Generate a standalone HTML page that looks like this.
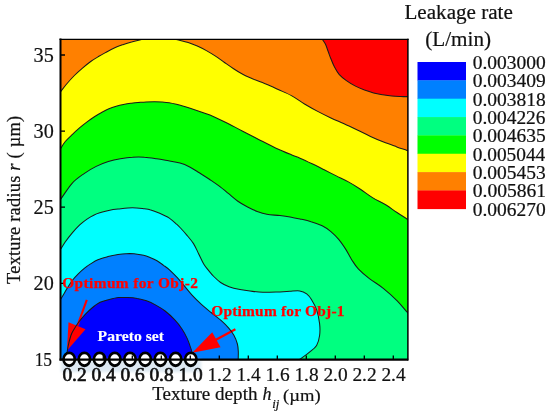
<!DOCTYPE html>
<html><head><meta charset="utf-8"><style>
html,body{margin:0;padding:0;background:#fff;}
body{width:550px;height:414px;overflow:hidden;}
svg{display:block;}
text{font-family:"Liberation Serif","Times New Roman",serif;font-size:17.6px;fill:#111;stroke:#111;stroke-width:0.2px;}
.b{stroke:#111;stroke-width:0.65px;}
.red{font-weight:bold;fill:#ff0000;stroke:#ff0000;stroke-width:0.25px;}
.wh{font-weight:bold;fill:#fff;stroke:#fff;stroke-width:0.15px;}
</style></head><body>
<svg width="550" height="414" viewBox="0 0 550 414">
<defs><filter id="bl" x="-20%" y="-50%" width="140%" height="200%"><feGaussianBlur stdDeviation="1.8"/></filter><clipPath id="pc"><rect x="60.5" y="39.3" width="347.4" height="320.2"/></clipPath></defs>
<g clip-path="url(#pc)">
<path fill="#ff0000" d="M50 28 H420 V372 H50 Z"/>
<path fill="#ff8000" d="M321.6 36.5 C321.8 37.0 322.1 38.4 322.7 39.7 C323.3 41.0 324.6 42.3 325.5 44.3 C326.4 46.3 327.3 49.1 328.2 51.5 C329.1 53.9 329.8 56.2 330.9 58.8 C331.9 61.4 333.1 64.4 334.5 67.0 C335.9 69.6 337.1 72.0 339.1 74.3 C341.1 76.6 343.7 78.6 346.4 80.6 C349.1 82.6 352.5 84.5 355.5 86.1 C358.5 87.7 361.5 88.9 364.5 90.1 C367.5 91.2 370.6 92.2 373.6 93.0 C376.6 93.8 379.7 94.3 382.7 94.8 C385.7 95.3 388.8 95.8 391.8 96.1 C394.8 96.4 398.3 96.5 400.9 96.6 C403.5 96.7 405.4 96.6 407.3 96.6 C409.2 96.6 411.2 96.6 412.0 96.6 L420 96.6 L420 372 L50 372 L50 28 L321.6 28 Z"/>
<path fill="#ffff00" d="M50 372 L50 97.0 L56.0 97.0 C56.8 96.1 58.8 93.9 60.5 91.8 C62.2 89.7 63.9 87.2 66.2 84.5 C68.5 81.8 71.7 78.2 74.4 75.5 C77.1 72.8 79.8 70.4 82.5 68.1 C85.2 65.8 88.0 63.5 90.7 61.5 C93.4 59.5 96.2 57.9 98.9 56.3 C101.6 54.7 104.4 53.2 107.1 51.7 C109.8 50.2 112.6 48.8 115.3 47.6 C118.0 46.4 120.8 45.4 123.5 44.4 C126.2 43.4 128.9 42.6 131.6 41.9 C134.3 41.1 137.6 40.4 139.8 39.9 C142.0 39.4 143.0 39.3 144.7 39.0 C146.4 38.7 149.1 38.2 150.0 38.0 L150.0 28 L172.0 28 L172.0 38.5 C172.9 38.7 174.6 39.0 177.3 39.7 C180.0 40.4 184.9 41.4 188.2 42.5 C191.5 43.6 194.3 44.8 197.3 46.1 C200.3 47.5 203.4 48.9 206.4 50.6 C209.4 52.3 212.5 54.1 215.5 56.1 C218.5 58.1 221.5 60.4 224.5 62.5 C227.5 64.6 230.6 66.8 233.6 68.8 C236.6 70.8 239.7 72.7 242.7 74.3 C245.7 75.9 248.8 77.2 251.8 78.5 C254.8 79.8 257.9 80.9 260.9 82.1 C263.9 83.3 267.1 84.5 270.0 85.7 C272.9 86.9 274.6 87.8 278.2 89.5 C281.8 91.2 287.0 93.2 291.4 95.6 C295.8 98.0 300.1 101.4 304.5 104.0 C308.9 106.6 313.3 109.1 317.7 111.4 C322.1 113.7 326.5 115.9 330.9 118.0 C335.3 120.1 339.7 121.8 344.1 123.8 C348.5 125.8 352.9 127.9 357.3 130.0 C361.7 132.1 366.1 134.4 370.5 136.4 C374.9 138.4 379.2 140.3 383.6 142.1 C388.0 143.8 392.9 145.5 396.8 146.9 C400.7 148.3 404.5 149.5 407.0 150.4 C409.5 151.3 411.2 151.9 412.0 152.2 L420 152.2 L420 372 Z"/>
<path fill="#00ff00" d="M50 372 L50 156.0 L56.0 156.0 C56.8 154.8 59.0 151.2 60.5 148.8 C62.0 146.4 63.3 143.9 65.3 141.5 C67.3 139.1 70.1 136.6 72.5 134.3 C74.9 132.0 77.4 129.8 79.8 127.7 C82.2 125.6 84.7 123.7 87.1 121.9 C89.5 120.1 92.0 118.4 94.4 116.8 C96.8 115.2 99.2 113.8 101.6 112.5 C104.0 111.2 106.5 109.8 108.9 108.8 C111.3 107.8 113.8 107.0 116.2 106.3 C118.6 105.6 121.1 105.0 123.5 104.5 C125.9 104.0 128.3 103.6 130.7 103.3 C133.1 103.0 135.4 102.7 138.0 102.5 C140.6 102.3 143.2 102.0 146.0 101.9 C148.8 101.8 151.9 101.7 154.5 101.7 C157.1 101.7 159.4 101.7 161.8 101.9 C164.2 102.1 166.7 102.3 169.1 102.7 C171.5 103.1 174.0 103.7 176.4 104.3 C178.8 104.9 181.2 105.6 183.6 106.3 C186.0 107.0 188.5 107.8 190.9 108.6 C193.3 109.4 195.8 110.3 198.2 111.1 C200.6 111.9 203.1 112.8 205.5 113.6 C207.9 114.4 209.2 114.7 212.7 116.2 C216.2 117.7 221.4 120.2 226.4 122.7 C231.4 125.2 237.2 128.4 242.7 131.2 C248.1 134.0 253.6 136.9 259.1 139.7 C264.6 142.5 270.1 145.4 275.5 147.9 C280.9 150.4 287.7 153.2 291.8 154.9 C295.9 156.6 296.6 156.7 300.0 158.2 C303.4 159.7 308.1 161.9 312.1 163.8 C316.1 165.7 320.2 167.8 324.2 169.8 C328.2 171.8 332.3 173.9 336.3 175.9 C340.3 177.9 344.4 179.7 348.4 181.9 C352.4 184.1 356.4 186.6 360.4 189.2 C364.4 191.8 368.2 195.0 372.5 197.6 C376.8 200.2 382.1 202.6 386.1 205.0 C390.1 207.4 393.1 210.0 396.6 212.3 C400.1 214.6 404.4 217.4 407.0 219.0 C409.6 220.6 411.2 221.5 412.0 222.0 L420 222.0 L420 372 Z"/>
<path fill="#00ff80" d="M50 372 L50 205.0 L56.0 205.0 C56.8 204.1 57.8 203.1 60.5 199.5 C63.2 195.9 68.2 187.6 72.1 183.3 C76.0 179.0 80.1 176.4 84.1 173.6 C88.1 170.8 92.2 168.4 96.2 166.4 C100.2 164.4 104.3 162.9 108.3 161.6 C112.3 160.3 116.4 159.4 120.4 158.7 C124.4 158.0 128.4 157.4 132.4 157.2 C136.4 156.9 140.5 156.9 144.5 157.2 C148.5 157.4 152.6 158.1 156.6 158.7 C160.6 159.3 164.7 160.1 168.6 160.8 C172.5 161.5 176.5 162.1 180.0 163.1 C183.5 164.1 186.5 165.4 189.7 167.0 C192.9 168.6 196.1 170.8 199.3 172.8 C202.5 174.8 205.8 176.8 209.0 179.0 C212.2 181.2 215.4 183.3 218.6 185.7 C221.8 188.1 225.1 190.8 228.3 193.4 C231.5 196.0 234.7 198.9 237.9 201.2 C241.1 203.5 244.4 205.3 247.6 207.0 C250.8 208.7 254.0 210.2 257.2 211.4 C260.4 212.6 263.1 213.6 266.9 214.3 C270.7 215.0 276.1 215.1 280.0 215.6 C283.9 216.1 286.7 216.5 290.0 217.1 C293.3 217.7 296.5 218.1 300.0 218.9 C303.5 219.7 307.4 220.5 311.1 221.7 C314.8 222.8 318.9 224.2 322.2 225.8 C325.4 227.4 327.8 229.1 330.6 231.4 C333.4 233.7 336.4 236.7 338.9 239.7 C341.4 242.7 343.7 246.2 345.8 249.4 C347.9 252.7 349.3 255.9 351.4 259.2 C353.5 262.4 355.3 265.7 358.3 268.9 C361.3 272.1 365.2 275.4 369.4 278.6 C373.6 281.8 378.7 284.6 383.3 288.3 C387.9 292.0 393.3 296.9 397.2 300.8 C401.1 304.7 404.4 309.2 406.9 311.9 C409.4 314.6 411.1 316.1 412.0 317.0 L420 317.0 L420 372 Z"/>
<path fill="#00ffff" d="M50 372 L50 255.0 L56.0 255.0 C56.8 254.1 59.0 251.5 60.5 249.3 C62.0 247.1 63.2 244.8 65.2 242.0 C67.2 239.2 70.1 235.4 72.5 232.6 C74.9 229.8 77.3 227.2 79.7 224.9 C82.1 222.7 84.6 220.8 87.0 219.1 C89.4 217.4 91.8 216.0 94.2 214.9 C96.6 213.8 99.1 213.1 101.5 212.3 C103.9 211.6 106.0 211.0 108.7 210.4 C111.5 209.8 114.0 209.4 118.0 209.0 C122.0 208.6 128.0 207.8 132.4 207.8 C136.8 207.8 141.6 208.5 144.5 208.8 C147.4 209.1 147.5 208.9 150.0 209.7 C152.5 210.4 156.5 211.9 159.7 213.3 C162.9 214.7 166.5 216.3 169.3 218.1 C172.1 219.9 174.7 222.5 176.6 224.2 C178.5 225.8 178.8 226.2 180.5 228.0 C182.2 229.8 184.6 232.5 186.8 235.1 C189.0 237.7 191.5 240.5 193.5 243.6 C195.5 246.7 196.9 250.3 198.6 253.7 C200.3 257.1 202.0 261.1 203.7 263.9 C205.4 266.7 207.0 268.5 208.7 270.6 C210.4 272.7 211.8 274.5 213.8 276.5 C215.8 278.5 218.1 280.8 220.6 282.5 C223.1 284.2 225.8 285.5 229.0 286.7 C232.2 287.9 236.5 288.9 240.0 289.6 C243.5 290.3 246.2 290.7 250.0 291.1 C253.8 291.5 257.9 292.1 262.9 292.2 C267.9 292.3 275.4 292.0 279.9 291.9 C284.4 291.8 286.5 291.5 289.8 291.3 C293.1 291.1 296.9 290.5 299.7 290.9 C302.5 291.3 304.7 292.4 306.7 293.9 C308.7 295.4 310.0 297.2 311.6 299.8 C313.2 302.4 315.3 305.7 316.6 309.7 C317.9 313.7 319.1 319.3 319.6 323.6 C320.1 327.9 320.1 331.9 319.6 335.5 C319.1 339.1 318.3 342.6 316.6 345.4 C314.9 348.2 312.0 350.0 309.2 352.4 C306.4 354.8 302.1 357.6 299.6 359.5 C297.2 361.4 295.4 363.2 294.5 364.0 L294.5 372 Z"/>
<path fill="#0080ff" d="M50 372 L50 306.0 L56.0 306.0 C56.8 304.9 58.5 302.6 60.5 299.5 C62.5 296.4 65.7 290.6 67.7 287.4 C69.7 284.2 70.7 282.5 72.5 280.2 C74.3 277.9 76.5 275.6 78.5 273.6 C80.5 271.6 82.6 269.7 84.6 268.1 C86.6 266.5 88.4 265.3 90.6 263.9 C92.8 262.5 95.0 260.9 97.9 259.7 C100.8 258.5 104.7 257.5 108.0 256.6 C111.3 255.8 115.0 255.1 118.0 254.6 C121.0 254.1 123.3 253.8 126.0 253.7 C128.7 253.6 131.1 253.5 134.0 253.8 C136.9 254.1 140.8 254.7 143.5 255.3 C146.2 255.9 147.8 256.6 150.0 257.5 C152.2 258.4 154.8 259.5 157.0 260.8 C159.2 262.1 161.3 263.7 163.5 265.3 C165.7 266.9 167.7 268.2 170.0 270.3 C172.3 272.4 174.9 275.1 177.3 277.7 C179.7 280.3 182.1 283.3 184.5 286.2 C186.9 289.1 189.0 291.8 191.8 294.8 C194.6 297.8 198.2 301.4 201.4 304.3 C204.6 307.2 207.8 309.8 211.1 312.5 C214.4 315.2 218.4 318.1 221.3 320.6 C224.2 323.2 226.4 325.4 228.5 327.8 C230.6 330.2 232.4 332.5 233.9 335.2 C235.4 337.9 236.7 341.3 237.4 344.0 C238.1 346.7 238.2 348.8 238.3 351.4 C238.4 354.0 238.2 357.1 238.2 359.5 C238.2 361.9 238.2 364.9 238.2 366.0 L238.2 372 Z"/>
<path fill="#0000ff" d="M66.0 366.0 C66.1 364.9 66.2 362.4 66.5 359.5 C66.8 356.6 67.0 352.4 67.7 348.4 C68.4 344.4 69.8 338.7 70.9 335.5 C72.0 332.3 72.9 331.3 74.2 329.0 C75.5 326.7 77.1 324.2 79.0 321.7 C80.9 319.2 83.3 316.4 85.5 314.1 C87.7 311.8 89.6 310.0 92.0 308.0 C94.4 306.0 97.2 303.7 100.1 302.3 C103.0 300.9 106.2 300.3 109.3 299.5 C112.4 298.7 115.5 297.9 118.6 297.6 C121.7 297.3 124.8 297.4 127.9 297.5 C131.0 297.6 134.1 297.8 137.2 298.4 C140.3 298.9 143.4 299.7 146.5 300.8 C149.6 301.9 152.7 303.4 155.8 305.1 C158.9 306.8 162.0 308.6 165.1 311.0 C168.2 313.4 171.5 316.4 174.3 319.4 C177.1 322.3 179.6 325.4 181.8 328.7 C184.0 331.9 185.9 335.5 187.4 338.9 C188.9 342.3 190.2 346.3 191.1 349.1 C192.0 351.9 192.3 353.9 192.6 355.6 C192.9 357.3 192.9 357.8 193.0 359.5 C193.1 361.2 193.0 364.9 193.0 366.0 Z"/>
<g fill="#ff0000" stroke="none">
<path d="M86.8 299.9 L77.5 325.5" stroke="#ff0000" stroke-width="2.1"/>
<polygon points="66.9,350.8 68.5,322.2 85.5,329.3"/>
<path d="M235.4 329.2 L215.5 340" stroke="#ff0000" stroke-width="2.2"/>
<polygon points="192.3,352.7 212.2,332.3 220.6,347.2"/>
</g>
<g fill="none" stroke="#1a1a1a" stroke-width="1.05">
<path d="M321.6 36.5 C321.8 37.0 322.1 38.4 322.7 39.7 C323.3 41.0 324.6 42.3 325.5 44.3 C326.4 46.3 327.3 49.1 328.2 51.5 C329.1 53.9 329.8 56.2 330.9 58.8 C331.9 61.4 333.1 64.4 334.5 67.0 C335.9 69.6 337.1 72.0 339.1 74.3 C341.1 76.6 343.7 78.6 346.4 80.6 C349.1 82.6 352.5 84.5 355.5 86.1 C358.5 87.7 361.5 88.9 364.5 90.1 C367.5 91.2 370.6 92.2 373.6 93.0 C376.6 93.8 379.7 94.3 382.7 94.8 C385.7 95.3 388.8 95.8 391.8 96.1 C394.8 96.4 398.3 96.5 400.9 96.6 C403.5 96.7 405.4 96.6 407.3 96.6 C409.2 96.6 411.2 96.6 412.0 96.6"/>
<path d="M56.0 97.0 C56.8 96.1 58.8 93.9 60.5 91.8 C62.2 89.7 63.9 87.2 66.2 84.5 C68.5 81.8 71.7 78.2 74.4 75.5 C77.1 72.8 79.8 70.4 82.5 68.1 C85.2 65.8 88.0 63.5 90.7 61.5 C93.4 59.5 96.2 57.9 98.9 56.3 C101.6 54.7 104.4 53.2 107.1 51.7 C109.8 50.2 112.6 48.8 115.3 47.6 C118.0 46.4 120.8 45.4 123.5 44.4 C126.2 43.4 128.9 42.6 131.6 41.9 C134.3 41.1 137.6 40.4 139.8 39.9 C142.0 39.4 143.0 39.3 144.7 39.0 C146.4 38.7 149.1 38.2 150.0 38.0"/>
<path d="M172.0 38.5 C172.9 38.7 174.6 39.0 177.3 39.7 C180.0 40.4 184.9 41.4 188.2 42.5 C191.5 43.6 194.3 44.8 197.3 46.1 C200.3 47.5 203.4 48.9 206.4 50.6 C209.4 52.3 212.5 54.1 215.5 56.1 C218.5 58.1 221.5 60.4 224.5 62.5 C227.5 64.6 230.6 66.8 233.6 68.8 C236.6 70.8 239.7 72.7 242.7 74.3 C245.7 75.9 248.8 77.2 251.8 78.5 C254.8 79.8 257.9 80.9 260.9 82.1 C263.9 83.3 267.1 84.5 270.0 85.7 C272.9 86.9 274.6 87.8 278.2 89.5 C281.8 91.2 287.0 93.2 291.4 95.6 C295.8 98.0 300.1 101.4 304.5 104.0 C308.9 106.6 313.3 109.1 317.7 111.4 C322.1 113.7 326.5 115.9 330.9 118.0 C335.3 120.1 339.7 121.8 344.1 123.8 C348.5 125.8 352.9 127.9 357.3 130.0 C361.7 132.1 366.1 134.4 370.5 136.4 C374.9 138.4 379.2 140.3 383.6 142.1 C388.0 143.8 392.9 145.5 396.8 146.9 C400.7 148.3 404.5 149.5 407.0 150.4 C409.5 151.3 411.2 151.9 412.0 152.2"/>
<path d="M56.0 156.0 C56.8 154.8 59.0 151.2 60.5 148.8 C62.0 146.4 63.3 143.9 65.3 141.5 C67.3 139.1 70.1 136.6 72.5 134.3 C74.9 132.0 77.4 129.8 79.8 127.7 C82.2 125.6 84.7 123.7 87.1 121.9 C89.5 120.1 92.0 118.4 94.4 116.8 C96.8 115.2 99.2 113.8 101.6 112.5 C104.0 111.2 106.5 109.8 108.9 108.8 C111.3 107.8 113.8 107.0 116.2 106.3 C118.6 105.6 121.1 105.0 123.5 104.5 C125.9 104.0 128.3 103.6 130.7 103.3 C133.1 103.0 135.4 102.7 138.0 102.5 C140.6 102.3 143.2 102.0 146.0 101.9 C148.8 101.8 151.9 101.7 154.5 101.7 C157.1 101.7 159.4 101.7 161.8 101.9 C164.2 102.1 166.7 102.3 169.1 102.7 C171.5 103.1 174.0 103.7 176.4 104.3 C178.8 104.9 181.2 105.6 183.6 106.3 C186.0 107.0 188.5 107.8 190.9 108.6 C193.3 109.4 195.8 110.3 198.2 111.1 C200.6 111.9 203.1 112.8 205.5 113.6 C207.9 114.4 209.2 114.7 212.7 116.2 C216.2 117.7 221.4 120.2 226.4 122.7 C231.4 125.2 237.2 128.4 242.7 131.2 C248.1 134.0 253.6 136.9 259.1 139.7 C264.6 142.5 270.1 145.4 275.5 147.9 C280.9 150.4 287.7 153.2 291.8 154.9 C295.9 156.6 296.6 156.7 300.0 158.2 C303.4 159.7 308.1 161.9 312.1 163.8 C316.1 165.7 320.2 167.8 324.2 169.8 C328.2 171.8 332.3 173.9 336.3 175.9 C340.3 177.9 344.4 179.7 348.4 181.9 C352.4 184.1 356.4 186.6 360.4 189.2 C364.4 191.8 368.2 195.0 372.5 197.6 C376.8 200.2 382.1 202.6 386.1 205.0 C390.1 207.4 393.1 210.0 396.6 212.3 C400.1 214.6 404.4 217.4 407.0 219.0 C409.6 220.6 411.2 221.5 412.0 222.0"/>
<path d="M56.0 205.0 C56.8 204.1 57.8 203.1 60.5 199.5 C63.2 195.9 68.2 187.6 72.1 183.3 C76.0 179.0 80.1 176.4 84.1 173.6 C88.1 170.8 92.2 168.4 96.2 166.4 C100.2 164.4 104.3 162.9 108.3 161.6 C112.3 160.3 116.4 159.4 120.4 158.7 C124.4 158.0 128.4 157.4 132.4 157.2 C136.4 156.9 140.5 156.9 144.5 157.2 C148.5 157.4 152.6 158.1 156.6 158.7 C160.6 159.3 164.7 160.1 168.6 160.8 C172.5 161.5 176.5 162.1 180.0 163.1 C183.5 164.1 186.5 165.4 189.7 167.0 C192.9 168.6 196.1 170.8 199.3 172.8 C202.5 174.8 205.8 176.8 209.0 179.0 C212.2 181.2 215.4 183.3 218.6 185.7 C221.8 188.1 225.1 190.8 228.3 193.4 C231.5 196.0 234.7 198.9 237.9 201.2 C241.1 203.5 244.4 205.3 247.6 207.0 C250.8 208.7 254.0 210.2 257.2 211.4 C260.4 212.6 263.1 213.6 266.9 214.3 C270.7 215.0 276.1 215.1 280.0 215.6 C283.9 216.1 286.7 216.5 290.0 217.1 C293.3 217.7 296.5 218.1 300.0 218.9 C303.5 219.7 307.4 220.5 311.1 221.7 C314.8 222.8 318.9 224.2 322.2 225.8 C325.4 227.4 327.8 229.1 330.6 231.4 C333.4 233.7 336.4 236.7 338.9 239.7 C341.4 242.7 343.7 246.2 345.8 249.4 C347.9 252.7 349.3 255.9 351.4 259.2 C353.5 262.4 355.3 265.7 358.3 268.9 C361.3 272.1 365.2 275.4 369.4 278.6 C373.6 281.8 378.7 284.6 383.3 288.3 C387.9 292.0 393.3 296.9 397.2 300.8 C401.1 304.7 404.4 309.2 406.9 311.9 C409.4 314.6 411.1 316.1 412.0 317.0"/>
<path d="M56.0 255.0 C56.8 254.1 59.0 251.5 60.5 249.3 C62.0 247.1 63.2 244.8 65.2 242.0 C67.2 239.2 70.1 235.4 72.5 232.6 C74.9 229.8 77.3 227.2 79.7 224.9 C82.1 222.7 84.6 220.8 87.0 219.1 C89.4 217.4 91.8 216.0 94.2 214.9 C96.6 213.8 99.1 213.1 101.5 212.3 C103.9 211.6 106.0 211.0 108.7 210.4 C111.5 209.8 114.0 209.4 118.0 209.0 C122.0 208.6 128.0 207.8 132.4 207.8 C136.8 207.8 141.6 208.5 144.5 208.8 C147.4 209.1 147.5 208.9 150.0 209.7 C152.5 210.4 156.5 211.9 159.7 213.3 C162.9 214.7 166.5 216.3 169.3 218.1 C172.1 219.9 174.7 222.5 176.6 224.2 C178.5 225.8 178.8 226.2 180.5 228.0 C182.2 229.8 184.6 232.5 186.8 235.1 C189.0 237.7 191.5 240.5 193.5 243.6 C195.5 246.7 196.9 250.3 198.6 253.7 C200.3 257.1 202.0 261.1 203.7 263.9 C205.4 266.7 207.0 268.5 208.7 270.6 C210.4 272.7 211.8 274.5 213.8 276.5 C215.8 278.5 218.1 280.8 220.6 282.5 C223.1 284.2 225.8 285.5 229.0 286.7 C232.2 287.9 236.5 288.9 240.0 289.6 C243.5 290.3 246.2 290.7 250.0 291.1 C253.8 291.5 257.9 292.1 262.9 292.2 C267.9 292.3 275.4 292.0 279.9 291.9 C284.4 291.8 286.5 291.5 289.8 291.3 C293.1 291.1 296.9 290.5 299.7 290.9 C302.5 291.3 304.7 292.4 306.7 293.9 C308.7 295.4 310.0 297.2 311.6 299.8 C313.2 302.4 315.3 305.7 316.6 309.7 C317.9 313.7 319.1 319.3 319.6 323.6 C320.1 327.9 320.1 331.9 319.6 335.5 C319.1 339.1 318.3 342.6 316.6 345.4 C314.9 348.2 312.0 350.0 309.2 352.4 C306.4 354.8 302.1 357.6 299.6 359.5 C297.2 361.4 295.4 363.2 294.5 364.0"/>
<path d="M56.0 306.0 C56.8 304.9 58.5 302.6 60.5 299.5 C62.5 296.4 65.7 290.6 67.7 287.4 C69.7 284.2 70.7 282.5 72.5 280.2 C74.3 277.9 76.5 275.6 78.5 273.6 C80.5 271.6 82.6 269.7 84.6 268.1 C86.6 266.5 88.4 265.3 90.6 263.9 C92.8 262.5 95.0 260.9 97.9 259.7 C100.8 258.5 104.7 257.5 108.0 256.6 C111.3 255.8 115.0 255.1 118.0 254.6 C121.0 254.1 123.3 253.8 126.0 253.7 C128.7 253.6 131.1 253.5 134.0 253.8 C136.9 254.1 140.8 254.7 143.5 255.3 C146.2 255.9 147.8 256.6 150.0 257.5 C152.2 258.4 154.8 259.5 157.0 260.8 C159.2 262.1 161.3 263.7 163.5 265.3 C165.7 266.9 167.7 268.2 170.0 270.3 C172.3 272.4 174.9 275.1 177.3 277.7 C179.7 280.3 182.1 283.3 184.5 286.2 C186.9 289.1 189.0 291.8 191.8 294.8 C194.6 297.8 198.2 301.4 201.4 304.3 C204.6 307.2 207.8 309.8 211.1 312.5 C214.4 315.2 218.4 318.1 221.3 320.6 C224.2 323.2 226.4 325.4 228.5 327.8 C230.6 330.2 232.4 332.5 233.9 335.2 C235.4 337.9 236.7 341.3 237.4 344.0 C238.1 346.7 238.2 348.8 238.3 351.4 C238.4 354.0 238.2 357.1 238.2 359.5 C238.2 361.9 238.2 364.9 238.2 366.0"/>
<path d="M66.0 366.0 C66.1 364.9 66.2 362.4 66.5 359.5 C66.8 356.6 67.0 352.4 67.7 348.4 C68.4 344.4 69.8 338.7 70.9 335.5 C72.0 332.3 72.9 331.3 74.2 329.0 C75.5 326.7 77.1 324.2 79.0 321.7 C80.9 319.2 83.3 316.4 85.5 314.1 C87.7 311.8 89.6 310.0 92.0 308.0 C94.4 306.0 97.2 303.7 100.1 302.3 C103.0 300.9 106.2 300.3 109.3 299.5 C112.4 298.7 115.5 297.9 118.6 297.6 C121.7 297.3 124.8 297.4 127.9 297.5 C131.0 297.6 134.1 297.8 137.2 298.4 C140.3 298.9 143.4 299.7 146.5 300.8 C149.6 301.9 152.7 303.4 155.8 305.1 C158.9 306.8 162.0 308.6 165.1 311.0 C168.2 313.4 171.5 316.4 174.3 319.4 C177.1 322.3 179.6 325.4 181.8 328.7 C184.0 331.9 185.9 335.5 187.4 338.9 C188.9 342.3 190.2 346.3 191.1 349.1 C192.0 351.9 192.3 353.9 192.6 355.6 C192.9 357.3 192.9 357.8 193.0 359.5 C193.1 361.2 193.0 364.9 193.0 366.0"/>
</g>
</g>
<rect x="61" y="360" width="140" height="12" fill="#dde8f2" filter="url(#bl)"/>
<g fill="#fff" stroke="#000" stroke-width="2.6">
<circle cx="69.20" cy="0" r="5.7" transform="translate(0 359.3) scale(1 1.12)"/>
<circle cx="84.40" cy="0" r="5.7" transform="translate(0 359.3) scale(1 1.12)"/>
<circle cx="99.60" cy="0" r="5.7" transform="translate(0 359.3) scale(1 1.12)"/>
<circle cx="114.80" cy="0" r="5.7" transform="translate(0 359.3) scale(1 1.12)"/>
<circle cx="130.00" cy="0" r="5.7" transform="translate(0 359.3) scale(1 1.12)"/>
<circle cx="145.20" cy="0" r="5.7" transform="translate(0 359.3) scale(1 1.12)"/>
<circle cx="160.40" cy="0" r="5.7" transform="translate(0 359.3) scale(1 1.12)"/>
<circle cx="175.60" cy="0" r="5.7" transform="translate(0 359.3) scale(1 1.12)"/>
<circle cx="190.80" cy="0" r="5.7" transform="translate(0 359.3) scale(1 1.12)"/>
</g>
<g fill="none" stroke="#000">
<path d="M60.5 38.6 V360.6" stroke-width="2"/>
<path d="M59.5 39.4 H408.6" stroke-width="1.2"/>
<path d="M407.9 38.8 V360.6" stroke-width="1.5"/>
<path d="M59.5 359.6 H408.2" stroke-width="2.2"/>
<path d="M74.3 359.5 V355.5 M103.3 359.5 V355.5 M132.3 359.5 V355.5 M161.3 359.5 V355.5 M190.3 359.5 V355.5 M219.3 359.5 V355.5 M248.3 359.5 V355.5 M277.3 359.5 V355.5 M306.3 359.5 V355.5 M335.3 359.5 V355.5 M364.3 359.5 V355.5 M393.3 359.5 V355.5 M60.5 359.5 H65 M60.5 283.4 H65 M60.5 207.2 H65 M60.5 131.1 H65 M60.5 55.0 H65" stroke-width="1.3"/>
</g>
<g>
<text x="74.50" y="381.2" text-anchor="middle" style="font-size:19.4px" class="b">0.2</text>
<text x="103.50" y="381.2" text-anchor="middle" style="font-size:19.4px" class="b">0.4</text>
<text x="132.50" y="381.2" text-anchor="middle" style="font-size:19.4px" class="b">0.6</text>
<text x="161.50" y="381.2" text-anchor="middle" style="font-size:19.4px" class="b">0.8</text>
<text x="190.50" y="381.2" text-anchor="middle" style="font-size:19.4px" class="b">1.0</text>
<text x="219.50" y="381.2" text-anchor="middle" style="font-size:19.4px">1.2</text>
<text x="248.50" y="381.2" text-anchor="middle" style="font-size:19.4px">1.4</text>
<text x="277.50" y="381.2" text-anchor="middle" style="font-size:19.4px">1.6</text>
<text x="306.50" y="381.2" text-anchor="middle" style="font-size:19.4px">1.8</text>
<text x="335.50" y="381.2" text-anchor="middle" style="font-size:19.4px">2.0</text>
<text x="364.50" y="381.2" text-anchor="middle" style="font-size:19.4px">2.2</text>
<text x="393.50" y="381.2" text-anchor="middle" style="font-size:19.4px">2.4</text>
</g>
<text x="53.8" y="290.07" text-anchor="end" style="font-size:20.2px">20</text>
<text x="53.8" y="213.95" text-anchor="end" style="font-size:20.2px">25</text>
<text x="53.8" y="137.82" text-anchor="end" style="font-size:20.2px">30</text>
<text x="53.8" y="61.70" text-anchor="end" style="font-size:20.2px">35</text>
<text x="34.64" y="365.80" textLength="17.40" lengthAdjust="spacingAndGlyphs" style="font-size:19.00px">15</text>
<text x="152.28" y="400.20" textLength="105.23" lengthAdjust="spacingAndGlyphs" style="font-size:18.00px">Texture depth</text>
<text x="262.40" y="400.20" textLength="9.00" lengthAdjust="spacingAndGlyphs" style="font-size:18.00px" font-style="italic">h</text>
<text x="272.23" y="407.60" textLength="7.09" lengthAdjust="spacingAndGlyphs" style="font-size:11.50px" font-style="italic">ij</text>
<text x="283.06" y="401.20" textLength="37.54" lengthAdjust="spacingAndGlyphs" style="font-size:17.60px">(µm)</text>
<text transform="translate(20.2 283.9) rotate(-90)" style="font-size:18.4px" textLength="168">Texture radius <tspan font-style="italic">r</tspan> ( µm)</text>
<rect x="417.5" y="62.00" width="48.5" height="18.65" fill="#0000ff"/>
<rect x="417.5" y="80.35" width="48.5" height="18.65" fill="#0080ff"/>
<rect x="417.5" y="98.70" width="48.5" height="18.65" fill="#00ffff"/>
<rect x="417.5" y="117.05" width="48.5" height="18.65" fill="#00ff80"/>
<rect x="417.5" y="135.40" width="48.5" height="18.65" fill="#00ff00"/>
<rect x="417.5" y="153.75" width="48.5" height="18.65" fill="#ffff00"/>
<rect x="417.5" y="172.10" width="48.5" height="18.65" fill="#ff8000"/>
<rect x="417.5" y="190.45" width="48.5" height="18.65" fill="#ff0000"/>
<text x="472.73" y="69.00" textLength="72.98" lengthAdjust="spacingAndGlyphs" style="font-size:17.80px">0.003000</text>
<text x="472.73" y="87.35" textLength="72.98" lengthAdjust="spacingAndGlyphs" style="font-size:17.80px">0.003409</text>
<text x="472.73" y="105.70" textLength="72.98" lengthAdjust="spacingAndGlyphs" style="font-size:17.80px">0.003818</text>
<text x="472.74" y="124.05" textLength="72.75" lengthAdjust="spacingAndGlyphs" style="font-size:17.80px">0.004226</text>
<text x="472.73" y="142.40" textLength="72.98" lengthAdjust="spacingAndGlyphs" style="font-size:17.80px">0.004635</text>
<text x="472.74" y="160.75" textLength="72.53" lengthAdjust="spacingAndGlyphs" style="font-size:17.80px">0.005044</text>
<text x="472.73" y="179.10" textLength="72.98" lengthAdjust="spacingAndGlyphs" style="font-size:17.80px">0.005453</text>
<text x="472.73" y="197.45" textLength="73.43" lengthAdjust="spacingAndGlyphs" style="font-size:17.80px">0.005861</text>
<text x="472.73" y="215.80" textLength="72.98" lengthAdjust="spacingAndGlyphs" style="font-size:17.80px">0.006270</text>
<text x="404.49" y="19.10" textLength="108.33" lengthAdjust="spacingAndGlyphs" style="font-size:20.80px">Leakage rate</text>
<text x="425.28" y="45.60" textLength="65.83" lengthAdjust="spacingAndGlyphs" style="font-size:20.80px">(L/min)</text>
<text x="62.27" y="288.40" textLength="135.71" lengthAdjust="spacing" style="font-size:15.40px" class="red">Optimum for Obj-2</text>
<text x="211.28" y="315.70" textLength="133.19" lengthAdjust="spacing" style="font-size:15.40px" class="red">Optimum for Obj-1</text>
<text x="97.59" y="341.10" textLength="66.45" lengthAdjust="spacingAndGlyphs" style="font-size:15.40px" class="wh">Pareto set</text>
</svg>
</body></html>
